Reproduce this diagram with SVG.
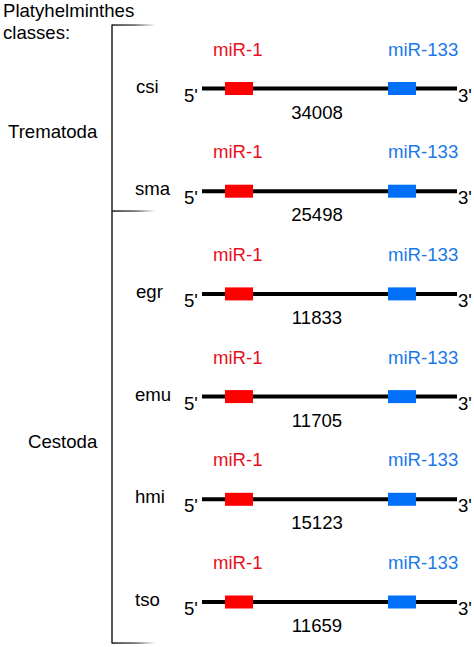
<svg xmlns="http://www.w3.org/2000/svg" width="474" height="647" viewBox="0 0 474 647">
<defs>
<linearGradient id="fade" x1="0" y1="0" x2="1" y2="0">
<stop offset="0" stop-color="#222"/>
<stop offset="0.5" stop-color="#555"/>
<stop offset="1" stop-color="#fff"/>
</linearGradient>
<style>
text{font-family:"Liberation Sans",Arial,sans-serif;font-size:18.6px;fill:#000}
.r{fill:#e8101a}
.b{fill:#1a78ea}
.n{text-anchor:middle}
.line{stroke:#000;stroke-width:4}
.rb{fill:#ff0000}
.bb{fill:#0070f8}
.br{stroke:#222;stroke-width:1.5;fill:none}
</style>
</defs>
<g id="title">
<text x="3" y="17">Platyhelminthes</text>
<text x="3" y="39">classes:</text>
</g>
<g id="bracket">
<line class="br" x1="112" y1="24.5" x2="112" y2="643.5"/>
<rect x="112" y="24.3" width="44" height="1.5" fill="url(#fade)"/>
<rect x="112" y="210.3" width="44" height="1.5" fill="url(#fade)"/>
<rect x="112" y="642.3" width="44" height="1.5" fill="url(#fade)"/>
<text x="8" y="138">Trematoda</text>
<text x="28" y="448">Cestoda</text>
</g>
<g id="csi" transform="translate(0,88.5)">
<text x="136" y="4">csi</text>
<text x="184" y="13">5'</text>
<line class="line" x1="202" y1="0" x2="457" y2="0"/>
<rect class="rb" x="225" y="-6.5" width="28" height="13"/>
<rect class="bb" x="388" y="-6.5" width="28" height="13"/>
<text x="458" y="13">3'</text>
<text class="r" x="213" y="-33">miR-1</text>
<text class="b" x="388" y="-33">miR-133</text>
<text class="n" x="317" y="30">34008</text>
</g>
<g id="sma" transform="translate(0,191.2)">
<text x="135" y="4">sma</text>
<text x="184" y="13">5'</text>
<line class="line" x1="202" y1="0" x2="457" y2="0"/>
<rect class="rb" x="225" y="-6.5" width="28" height="13"/>
<rect class="bb" x="388" y="-6.5" width="28" height="13"/>
<text x="458" y="13">3'</text>
<text class="r" x="213" y="-33">miR-1</text>
<text class="b" x="388" y="-33">miR-133</text>
<text class="n" x="317" y="30">25498</text>
</g>
<g id="egr" transform="translate(0,293.9)">
<text x="136" y="4">egr</text>
<text x="184" y="13">5'</text>
<line class="line" x1="202" y1="0" x2="457" y2="0"/>
<rect class="rb" x="225" y="-6.5" width="28" height="13"/>
<rect class="bb" x="388" y="-6.5" width="28" height="13"/>
<text x="458" y="13">3'</text>
<text class="r" x="213" y="-33">miR-1</text>
<text class="b" x="388" y="-33">miR-133</text>
<text class="n" x="317" y="30">11833</text>
</g>
<g id="emu" transform="translate(0,396.6)">
<text x="135" y="4">emu</text>
<text x="184" y="13">5'</text>
<line class="line" x1="202" y1="0" x2="457" y2="0"/>
<rect class="rb" x="225" y="-6.5" width="28" height="13"/>
<rect class="bb" x="388" y="-6.5" width="28" height="13"/>
<text x="458" y="13">3'</text>
<text class="r" x="213" y="-33">miR-1</text>
<text class="b" x="388" y="-33">miR-133</text>
<text class="n" x="317" y="30">11705</text>
</g>
<g id="hmi" transform="translate(0,499.3)">
<text x="135" y="4">hmi</text>
<text x="184" y="13">5'</text>
<line class="line" x1="202" y1="0" x2="457" y2="0"/>
<rect class="rb" x="225" y="-6.5" width="28" height="13"/>
<rect class="bb" x="388" y="-6.5" width="28" height="13"/>
<text x="458" y="13">3'</text>
<text class="r" x="213" y="-33">miR-1</text>
<text class="b" x="388" y="-33">miR-133</text>
<text class="n" x="317" y="30">15123</text>
</g>
<g id="tso" transform="translate(0,602)">
<text x="135" y="4">tso</text>
<text x="184" y="13">5'</text>
<line class="line" x1="202" y1="0" x2="457" y2="0"/>
<rect class="rb" x="225" y="-6.5" width="28" height="13"/>
<rect class="bb" x="388" y="-6.5" width="28" height="13"/>
<text x="458" y="13">3'</text>
<text class="r" x="213" y="-33">miR-1</text>
<text class="b" x="388" y="-33">miR-133</text>
<text class="n" x="317" y="30">11659</text>
</g>
</svg>
